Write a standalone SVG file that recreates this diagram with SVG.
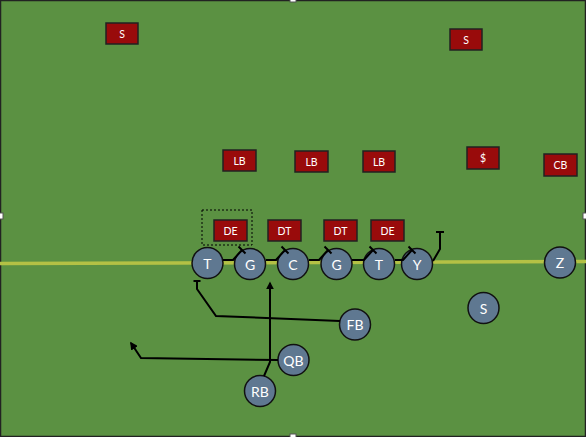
<svg xmlns="http://www.w3.org/2000/svg" width="586" height="437" viewBox="0 0 586 437">
<defs>
<style>
.d rect{fill:#990b0b;stroke:#222;stroke-width:1.5}
.d text{fill:#fff;font-family:Lato,"Liberation Sans",sans-serif;font-size:10.5px;text-anchor:middle;dominant-baseline:central}
.o circle{fill:#5f7891;stroke:#111;stroke-width:1.5}
.o text{fill:#fff;font-family:Lato,"Liberation Sans",sans-serif;font-size:14px;text-anchor:middle;dominant-baseline:central}
.c path{fill:none;stroke:#000;stroke-width:2}
.h{fill:#fff;stroke:#555;stroke-width:1}
</style>
<marker id="ah" viewBox="0 0 10 10" refX="8" refY="5" markerWidth="4" markerHeight="4" orient="auto" markerUnits="strokeWidth">
<path d="M0,0 L10,5 L0,10 z" fill="#000"/>
</marker>
</defs>
<rect x="0.5" y="0.5" width="585" height="436" fill="#5b9142" stroke="#222" stroke-width="1.5"/>
<line x1="0" y1="263.5" x2="586" y2="261.5" stroke="#b4c145" stroke-width="3.5"/>
<rect x="202" y="210" width="50" height="35" fill="none" stroke="#000" stroke-width="1" stroke-dasharray="2,2"/>

<g class="d" id="def-s1"><rect x="106" y="23" width="32" height="21"/><text x="122" y="33.5">S</text></g>
<g class="d" id="def-s2"><rect x="450" y="29" width="32" height="21"/><text x="466" y="39.5">S</text></g>
<g class="d" id="def-lb1"><rect x="223" y="150" width="33" height="21"/><text x="239.5" y="160.5">LB</text></g>
<g class="d" id="def-lb2"><rect x="295" y="151" width="33" height="21"/><text x="311.5" y="161.5">LB</text></g>
<g class="d" id="def-lb3"><rect x="363" y="151" width="32" height="21"/><text x="379" y="161.5">LB</text></g>
<g class="d" id="def-dollar"><rect x="467" y="147" width="32" height="22"/><text x="483" y="158">$</text></g>
<g class="d" id="def-cb"><rect x="544" y="154" width="33" height="22"/><text x="560.5" y="165">CB</text></g>
<g class="d" id="def-de1"><rect x="214" y="220" width="33" height="21"/><text x="230.5" y="230.5">DE</text></g>
<g class="d" id="def-dt1"><rect x="268" y="220" width="33" height="21"/><text x="284.5" y="230.5">DT</text></g>
<g class="d" id="def-dt2"><rect x="324" y="220" width="33" height="21"/><text x="340.5" y="230.5">DT</text></g>
<g class="d" id="def-de2"><rect x="371" y="220" width="33" height="21"/><text x="387.5" y="230.5">DE</text></g>

<g class="o" id="off-t1"><circle cx="207.5" cy="263" r="15.5"/><text x="207.5" y="263">T</text></g>
<g class="o" id="off-g1"><circle cx="250" cy="264" r="15.5"/><text x="250" y="264">G</text></g>
<g class="o" id="off-c"><circle cx="293" cy="264" r="15.5"/><text x="293" y="264">C</text></g>
<g class="o" id="off-g2"><circle cx="336.5" cy="264" r="15.5"/><text x="336.5" y="264">G</text></g>
<g class="o" id="off-t2"><circle cx="379" cy="264" r="15.5"/><text x="379" y="264">T</text></g>
<g class="o" id="off-y"><circle cx="417" cy="264" r="15.5"/><text x="417" y="264">Y</text></g>
<g class="o" id="off-z"><circle cx="560" cy="262.5" r="15.5"/><text x="560" y="262.5">Z</text></g>
<g class="o" id="off-s"><circle cx="483.5" cy="308" r="15.5"/><text x="483.5" y="308">S</text></g>
<g class="o" id="off-fb"><circle cx="355" cy="324.5" r="15.5"/><text x="355" y="324.5">FB</text></g>
<g class="o" id="off-qb"><circle cx="293.5" cy="360" r="15.5"/><text x="293.5" y="360">QB</text></g>
<g class="o" id="off-rb"><circle cx="260" cy="391" r="15.5"/><text x="260" y="391">RB</text></g>

<g class="c" id="connectors">
<path d="M223,260 H233 L242,250 M238.5,246.5 L245.5,253.5"/>
<path d="M266,260 H276 L285,250 M281.5,246.5 L288.5,253.5"/>
<path d="M309,260 H319 L328,250 M324.5,246.5 L331.5,253.5"/>
<path d="M352,260 H364 L373,250 M369.5,246.5 L376.5,253.5"/>
<path d="M395,260 H403 L412,250 M408.5,246.5 L415.5,253.5"/>
<path d="M433,261 L440,249 V232 M436,232 H444"/>
<path d="M340,321 L216,316 L197,289 V281 M193.5,281 H200.5"/>
<path d="M264,376 L270,362 V283" marker-end="url(#ah)"/>
<path d="M278,360 L141,358 L131,343" marker-end="url(#ah)"/>
</g>

<rect class="h" x="-2" y="213" width="5" height="6"/>
<rect class="h" x="583" y="213" width="5" height="6"/>
<rect class="h" x="290" y="-3" width="6" height="5"/>
<rect class="h" x="290" y="434" width="6" height="5"/>
</svg>
